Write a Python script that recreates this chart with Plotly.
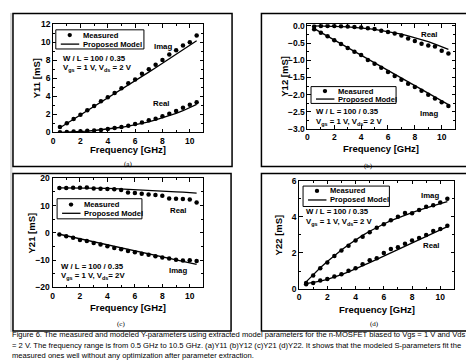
import plotly.graph_objects as go

W, H = 474, 361

freq_ghz = [0.5, 1.0, 1.5, 2.0, 2.5, 3.0, 3.5, 4.0, 4.5, 5.0, 5.5,
            6.0, 6.5, 7.0, 7.5, 8.0, 8.5, 9.0, 9.5, 10.0, 10.5]

# (a) Y11 [mS]
y11_meas_imag = [0.58, 1.0, 1.48, 1.96, 2.45, 2.92, 3.46, 3.9, 4.38, 4.9, 5.46,
                 5.88, 6.5, 7.02, 7.5, 8.04, 8.66, 9.12, 9.66, 10.0, 10.75]
y11_meas_real = [0.0, 0.04, 0.08, 0.12, 0.16, 0.2, 0.27, 0.36, 0.48, 0.6, 0.74,
                 0.92, 1.1, 1.34, 1.52, 1.78, 2.06, 2.36, 2.72, 3.06, 3.33]
y11_model_imag = [0.5, 0.97, 1.44, 1.91, 2.38, 2.85, 3.33, 3.8, 4.28, 4.76, 5.24,
                  5.72, 6.2, 6.69, 7.18, 7.67, 8.17, 8.67, 9.17, 9.67, 10.18]
y11_model_real = [0.0, 0.02, 0.05, 0.09, 0.14, 0.2, 0.27, 0.35, 0.45, 0.56, 0.69,
                  0.83, 0.99, 1.17, 1.37, 1.59, 1.83, 2.1, 2.4, 2.73, 3.1]

# (b) Y12 [mS]
y12_meas_real = [-0.02, 0.0, 0.0, 0.0, -0.01, -0.02, -0.03, -0.05, -0.07, -0.09, -0.14,
                 -0.18, -0.22, -0.28, -0.37, -0.44, -0.52, -0.57, -0.6, -0.72, -0.8]
y12_meas_imag = [-0.1, -0.2, -0.3, -0.42, -0.53, -0.64, -0.75, -0.85, -0.99, -1.1, -1.22,
                 -1.34, -1.46, -1.57, -1.68, -1.78, -1.89, -2.0, -2.11, -2.22, -2.33]
y12_model_real = [0.0, 0.0, -0.005, -0.01, -0.02, -0.03, -0.04, -0.06, -0.08, -0.1, -0.13,
                  -0.16, -0.2, -0.24, -0.29, -0.34, -0.4, -0.46, -0.53, -0.6, -0.68]
y12_model_imag = [-0.08, -0.19, -0.3, -0.41, -0.52, -0.63, -0.74, -0.85, -0.96, -1.07, -1.18,
                  -1.29, -1.4, -1.51, -1.62, -1.73, -1.84, -1.95, -2.06, -2.17, -2.29]

# (c) Y21 [mS]
y21_meas_real = [16.4, 16.4, 16.5, 16.5, 16.6, 16.3, 16.2, 16.1, 16.0, 15.7, 14.8,
                 14.6, 14.3, 14.1, 13.9, 13.6, 12.6, 12.5, 12.4, 12.2, 11.1]
y21_meas_imag = [-0.6, -1.2, -1.8, -2.6, -3.0, -3.7, -4.3, -4.9, -5.5, -6.0, -6.6,
                 -7.1, -7.6, -8.0, -8.6, -9.0, -9.4, -9.8, -10.1, -10.0, -10.3]
y21_model_real = [16.5, 16.5, 16.5, 16.5, 16.45, 16.4, 16.35, 16.3, 16.2, 16.1, 16.0,
                  15.9, 15.8, 15.65, 15.5, 15.35, 15.2, 15.05, 14.9, 14.75, 14.6]
y21_model_imag = [-0.5, -1.05, -1.6, -2.15, -2.7, -3.25, -3.8, -4.35, -4.9, -5.45, -6.0,
                  -6.55, -7.1, -7.65, -8.2, -8.75, -9.3, -9.85, -10.4, -10.95, -11.5]

# (d) Y22 [mS]
y22_meas_imag = [0.34, 0.76, 1.15, 1.47, 1.83, 2.13, 2.4, 2.69, 2.9, 3.14, 3.39,
                 3.58, 3.8, 4.0, 4.2, 4.19, 4.37, 4.55, 4.64, 4.78, 5.0]
y22_meas_real = [0.27, 0.34, 0.48, 0.56, 0.7, 0.82, 1.02, 1.15, 1.38, 1.6, 1.7,
                 2.0, 2.22, 2.31, 2.51, 2.69, 2.83, 2.99, 3.21, 3.32, 3.5]
y22_model_imag = [0.4, 0.8, 1.18, 1.53, 1.86, 2.16, 2.45, 2.72, 2.97, 3.2, 3.41,
                  3.6, 3.78, 3.94, 4.09, 4.23, 4.36, 4.49, 4.61, 4.72, 4.83]
y22_model_real = [0.3, 0.36, 0.44, 0.54, 0.66, 0.8, 0.95, 1.11, 1.28, 1.46, 1.64,
                  1.82, 2.0, 2.18, 2.36, 2.54, 2.72, 2.9, 3.08, 3.26, 3.45]

legend_labels = ["Measured", "Proposed Model"]
panel_letters = ["(a)", "(b)", "(c)", "(d)"]
y_titles = ["Y11 [mS]", "Y12 [mS]", "Y21 [mS]", "Y22 [mS]"]
x_title = "Frequency [GHz]"
bias_line1 = "W / L = 100 / 0.35"
bias_lines2 = ["V<sub>gs</sub> = 1 V, V<sub>ds</sub> = 2 V",
               "V<sub>gs</sub> = 1 V, V<sub>ds</sub>= 2 V",
               "V<sub>gs</sub> = 1 V, V<sub>ds</sub>= 2V",
               "V<sub>gs</sub> = 1 V, V<sub>ds</sub>= 2 V"]
caption_lines = [
    "Figure 6. The measured and modeled Y-parameters using extracted model parameters for the n-MOSFET biased to Vgs = 1 V and Vds",
    "= 2 V. The frequency range is from 0.5 GHz to 10.5 GHz. (a)Y11 (b)Y12 (c)Y21 (d)Y22. It shows that the modeled S-parameters fit the",
    "measured ones well without any optimization after parameter extraction.",
]

FONT = "Liberation Sans, Arial, sans-serif"


def px(x):
    return x / W


def py(y):
    return 1 - y / H


panels = [
    dict(meas=(y11_meas_real, y11_meas_imag), model=(y11_model_real, y11_model_imag),
         xd=(43.3, 194.3), yd=(11.7, 122.7), yr=[0, 12], dt=2, mdt=1, fmt="d",
         box=(3, 0.5, 223, 158),
         lg=(46, 17.3, 134.5, 37, 22.7, 32), bias=(51.7, 46.5, 56),
         labels=[("Imag", 153.3, 34.7), ("Real", 151.5, 93.3)],
         ytitle_x=26, xtitle_y=140, cap=(118, 155)),
    dict(meas=(y12_meas_real, y12_meas_imag), model=(y12_model_real, y12_model_imag),
         xd=(298.7, 447), yd=(11.5, 119.3), yr=[-3.0, 0.05], dt=0.5, mdt=0.25, fmt=".1f",
         box=(252.5, 0.5, 473.5, 158),
         lg=(302.3, 75.7, 387.7, 93, 80.3, 88.5), bias=(305, 101.3, 110.7),
         labels=[("Real", 420.7, 22.5), ("Imag", 421, 103.7)],
         ytitle_x=275.3, xtitle_y=139.8, cap=(360, 157)),
    dict(meas=(y21_meas_real, y21_meas_imag), model=(y21_model_real, y21_model_imag),
         xd=(42.7, 194.3), yd=(170, 282.3), yr=[-20, 20], dt=10, mdt=5, fmt="d",
         box=(3, 165, 222, 327),
         lg=(47.3, 191, 132.5, 211.7, 197, 206), bias=(49.5, 260.5, 270),
         labels=[("Real", 168.3, 202.7), ("Imag", 168.3, 265)],
         ytitle_x=21.7, xtitle_y=302.5, cap=(111.7, 320)),
    dict(meas=(y22_meas_real, y22_meas_imag), model=(y22_model_real, y22_model_imag),
         xd=(290.3, 446.3), yd=(172.3, 284), yr=[0, 6], dt=2, mdt=1, fmt="d",
         box=(252.5, 165, 473.5, 327),
         lg=(294.3, 178, 381, 199, 183, 192.3), bias=(295.3, 204.5, 214),
         labels=[("Imag", 422, 187.3), ("Real", 423, 239)],
         ytitle_x=269.7, xtitle_y=304.5, cap=(366, 320)),
]

fig = go.Figure()
layout = dict(width=W, height=H, margin=dict(l=0, r=0, t=0, b=0),
              paper_bgcolor="white", plot_bgcolor="white", showlegend=False,
              font=dict(family=FONT, color="black"))
annotations = []
shapes = []

# light grey strip at the left edge of the scanned page
shapes.append(dict(type="rect", xref="paper", yref="paper", x0=0, x1=px(2.5),
                   y0=py(328), y1=1, line=dict(width=0), fillcolor="#d9d9d9", layer="below"))

for i, p in enumerate(panels):
    n = i + 1
    xa = "x" if n == 1 else f"x{n}"
    ya = "y" if n == 1 else f"y{n}"
    for yv in p["meas"]:
        fig.add_trace(go.Scatter(
            x=freq_ghz, y=yv, mode="markers", xaxis=xa, yaxis=ya,
            marker=dict(symbol="circle", size=4.5, color="black"),
            name=legend_labels[0]))
    for yv in p["model"]:
        fig.add_trace(go.Scatter(
            x=freq_ghz, y=yv, mode="lines", xaxis=xa, yaxis=ya,
            line=dict(color="black", width=1.3),
            name=legend_labels[1]))

    axcommon = dict(showline=True, linecolor="black", linewidth=1, mirror="allticks",
                    ticks="inside", ticklen=3.5, tickwidth=1, tickcolor="black",
                    showgrid=False, zeroline=False,
                    tickfont=dict(family=FONT, size=8.5, color="black", weight="bold"))
    layout["xaxis" if n == 1 else f"xaxis{n}"] = dict(
        axcommon, domain=[px(p["xd"][0]), px(p["xd"][1])], range=[0, 11],
        anchor=ya, tick0=0, dtick=2,
        minor=dict(dtick=1, ticks="inside", ticklen=2, tickcolor="black"))
    layout["yaxis" if n == 1 else f"yaxis{n}"] = dict(
        axcommon, domain=[py(p["yd"][1]), py(p["yd"][0])], range=p["yr"],
        anchor=xa, tick0=0, dtick=p["dt"], tickformat=p["fmt"],
        minor=dict(dtick=p["mdt"], ticks="inside", ticklen=2, tickcolor="black"))

    # outer panel frame
    x0, y0, x1, y1 = p["box"]
    shapes.append(dict(type="rect", xref="paper", yref="paper",
                       x0=px(x0), x1=px(x1), y0=py(y1), y1=py(y0),
                       line=dict(color="black", width=1.5), layer="below"))

    # legend box (Measured / Proposed Model)
    lx0, ly0, lx1, ly1, r1, r2 = p["lg"]
    shapes.append(dict(type="rect", xref="paper", yref="paper",
                       x0=px(lx0), x1=px(lx1), y0=py(ly1), y1=py(ly0),
                       line=dict(color="black", width=1), fillcolor="white", layer="above"))
    mx = lx0 + 14
    shapes.append(dict(type="circle", xref="paper", yref="paper",
                       x0=px(mx - 2.2), x1=px(mx + 2.2), y0=py(r1 + 2.2), y1=py(r1 - 2.2),
                       line=dict(width=0), fillcolor="black", layer="above"))
    shapes.append(dict(type="line", xref="paper", yref="paper",
                       x0=px(lx0 + 5), x1=px(lx0 + 23.5), y0=py(r2), y1=py(r2),
                       line=dict(color="black", width=1.3), layer="above"))
    lfont = dict(family=FONT, size=7.6, color="black", weight="bold")
    for txt, ry in zip(legend_labels, (r1, r2)):
        annotations.append(dict(text=txt, x=px(lx0 + 25), y=py(ry), xref="paper", yref="paper",
                                showarrow=False, xanchor="left", yanchor="middle", font=lfont))

    bold = dict(family=FONT, size=7.8, color="black", weight="bold")
    for txt, tx, ty in p["labels"]:
        annotations.append(dict(text=txt, x=px(tx), y=py(ty), xref="paper", yref="paper",
                                showarrow=False, xanchor="center", yanchor="middle", font=bold))
    bx, by1, by2 = p["bias"]
    annotations.append(dict(text=bias_line1, x=px(bx), y=py(by1), xref="paper", yref="paper",
                            showarrow=False, xanchor="left", yanchor="middle", font=bold))
    annotations.append(dict(text=bias_lines2[i], x=px(bx), y=py(by2 + 1), xref="paper", yref="paper",
                            showarrow=False, xanchor="left", yanchor="middle", font=bold))
    # axis titles
    tfont = dict(family=FONT, size=9.5, color="black", weight="bold")
    annotations.append(dict(text=y_titles[i], x=px(p["ytitle_x"]),
                            y=py((p["yd"][0] + p["yd"][1]) / 2), xref="paper", yref="paper",
                            showarrow=False, textangle=-90, xanchor="center", yanchor="middle",
                            font=tfont))
    annotations.append(dict(text=x_title, x=px((p["xd"][0] + p["xd"][1]) / 2),
                            y=py(p["xtitle_y"]), xref="paper", yref="paper",
                            showarrow=False, xanchor="center", yanchor="middle", font=tfont))
    annotations.append(dict(text=panel_letters[i], x=px(p["cap"][0]), y=py(p["cap"][1]),
                            xref="paper", yref="paper", showarrow=False,
                            xanchor="center", yanchor="middle",
                            font=dict(family="Liberation Serif, serif", size=7, color="black")))

for j, line in enumerate(caption_lines):
    annotations.append(dict(text=line, x=0, y=py(330.5 + 11 * j), xref="paper", yref="paper",
                            showarrow=False, xanchor="left", yanchor="middle",
                            font=dict(family=FONT, size=7.6, color="black")))

layout["annotations"] = annotations
layout["shapes"] = shapes
fig.update_layout(**layout)
fig.write_html("out.html")
